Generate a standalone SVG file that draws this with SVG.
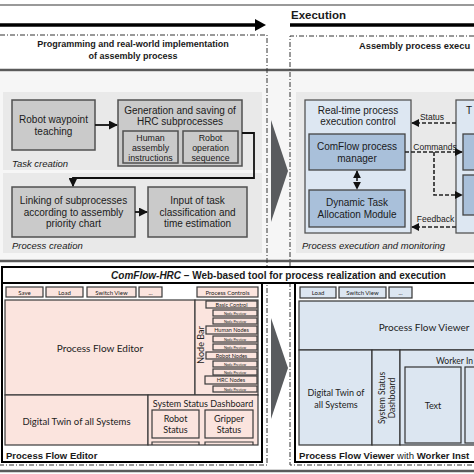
<svg xmlns="http://www.w3.org/2000/svg" width="474" height="474" viewBox="0 0 474 474">
<defs>
<marker id="ah" viewBox="0 0 10 10" refX="9" refY="5" markerWidth="5" markerHeight="5" orient="auto-start-reverse"><path d="M0,0 L10,5 L0,10 z" fill="#111"/></marker>
<style>
.t{font-family:"Liberation Sans",Arial,sans-serif;fill:#1a1a1a}
.b{font-weight:bold}
.i{font-style:italic}
.m{text-anchor:middle}
.c{font-family:Lato,"Open Sans",sans-serif;fill:#222}
.sep{stroke:#5a5a5a;stroke-width:2.5}
.dd{fill:none;stroke:#333;stroke-width:1;stroke-dasharray:5,2,1,2}
.panel{fill:#e9e9e9}
.gbox{fill:#cacaca;stroke:#505050;stroke-width:1.5}
.lb{fill:#dde7f2;stroke:#555;stroke-width:1.3}
.mb{fill:#a9c0da;stroke:#444;stroke-width:1.3}
.con{fill:none;stroke:#111;stroke-width:1.8}
.dash{fill:none;stroke:#222;stroke-width:1.6;stroke-dasharray:4,2}
.app{fill:#fff;stroke:#000;stroke-width:2}
.pk{fill:#fbe4de;stroke:#3a3a3a;stroke-width:1.2}
.bl{fill:#dce6f1;stroke:#333;stroke-width:1.2}
.chev{fill:#595b5e}
</style>
</defs>
<rect width="474" height="474" fill="#fff"/>
<line x1="0" y1="5" x2="474" y2="5" stroke="#777" stroke-width="1.5"/>
<g id="phase-arrow">
<line x1="0" y1="25" x2="257" y2="25" stroke="#000" stroke-width="3.5"/>
<polygon points="255,19 266,25 255,31" fill="#000"/>
<text class="t b" x="291" y="19" font-size="11.5">Execution</text>
<line x1="290" y1="25" x2="474" y2="25" stroke="#000" stroke-width="3.5"/>
</g>
<rect x="0" y="72" width="474" height="188" fill="#f6f6f6"/>
<line class="sep" x1="0" y1="70" x2="474" y2="70"/>
<line class="sep" x1="0" y1="261" x2="474" y2="261"/>
<line class="sep" x1="0" y1="471" x2="474" y2="471"/>
<path class="dd" d="M0,35 H267 V465 H0"/>
<path class="dd" d="M474,36 H290 V465 H474"/>
<text class="t b m" x="133" y="46.5" font-size="9">Programming and real-world implementation</text>
<text class="t b m" x="133" y="58.5" font-size="9">of assembly process</text>
<text class="t b" x="359" y="48.5" font-size="9.3">Assembly process execu</text>
<rect class="panel" x="3" y="92" width="259" height="78"/>
<rect class="panel" x="3" y="173" width="259" height="80"/>
<rect class="panel" x="296" y="92" width="180" height="161"/>
<polygon class="chev" points="271,120 288,171 271,222"/>
<polygon class="chev" points="271,318 288,368 271,419"/>
<g id="robot-waypoint">
<rect class="gbox" x="12" y="100" width="83" height="50"/>
<text class="t m" x="53.5" y="123" font-size="10">Robot waypoint</text>
<text class="t m" x="53.5" y="135" font-size="10">teaching</text>
</g>
<g id="generation">
<rect class="gbox" x="118" y="100" width="124" height="66"/>
<text class="t m" x="180" y="113.5" font-size="10">Generation and saving of</text>
<text class="t m" x="180" y="124.5" font-size="10">HRC subprocesses</text>
</g>
<g id="human-instructions">
<rect class="gbox" x="123" y="131" width="55" height="32" stroke-width="1.2"/>
<text class="t m" x="150.5" y="141" font-size="8.8">Human</text>
<text class="t m" x="150.5" y="151" font-size="8.8">assembly</text>
<text class="t m" x="150.5" y="161" font-size="8.8">instructions</text>
</g>
<g id="robot-sequence">
<rect class="gbox" x="183" y="131" width="55" height="32" stroke-width="1.2"/>
<text class="t m" x="210.5" y="141" font-size="8.8">Robot</text>
<text class="t m" x="210.5" y="151" font-size="8.8">operation</text>
<text class="t m" x="210.5" y="161" font-size="8.8">sequence</text>
</g>
<text class="t i" x="12" y="166.5" font-size="9.5">Task creation</text>
<g id="linking">
<rect class="gbox" x="12" y="187" width="123" height="50"/>
<text class="t m" x="73.5" y="203.5" font-size="10">Linking of subprocesses</text>
<text class="t m" x="73.5" y="215.5" font-size="10">according to assembly</text>
<text class="t m" x="73.5" y="226.5" font-size="10">priority chart</text>
</g>
<g id="input-task">
<rect class="gbox" x="148" y="187" width="99" height="50"/>
<text class="t m" x="197.5" y="203.5" font-size="10">Input of task</text>
<text class="t m" x="197.5" y="215.5" font-size="10">classification and</text>
<text class="t m" x="197.5" y="226.5" font-size="10">time estimation</text>
</g>
<text class="t i" x="12" y="248.5" font-size="9.5">Process creation</text>
<g id="realtime-control">
<rect class="lb" x="305" y="100" width="106" height="133"/>
<text class="t m" x="358" y="113.5" font-size="10">Real-time process</text>
<text class="t m" x="358" y="124.5" font-size="10">execution control</text>
</g>
<g id="comflow-manager">
<rect class="mb" x="309" y="134" width="96" height="36"/>
<text class="t m" x="357" y="150" font-size="10">ComFlow process</text>
<text class="t m" x="357" y="161.5" font-size="10">manager</text>
</g>
<g id="dynamic-task">
<rect class="mb" x="309" y="190" width="96" height="37"/>
<text class="t m" x="357" y="206" font-size="10">Dynamic Task</text>
<text class="t m" x="357" y="217.5" font-size="10">Allocation Module</text>
</g>
<g id="technical-systems">
<rect class="lb" x="456" y="100" width="30" height="133"/>
<text class="t" x="466" y="113.5" font-size="10">T</text>
<rect class="mb" x="463" y="134" width="30" height="36"/>
<rect class="mb" x="463" y="175" width="30" height="40"/>
</g>
<text class="t i" x="302" y="249" font-size="9.5">Process execution and monitoring</text>
<g id="connectors">
<line class="con" x1="95" y1="125" x2="117" y2="125" marker-end="url(#ah)"/>
<line class="con" x1="135" y1="212" x2="147" y2="212" marker-end="url(#ah)"/>
<path class="con" d="M242,133 H254 V178 H73 V186" marker-end="url(#ah)"/>
<line class="dash" x1="357" y1="171" x2="357" y2="189" marker-start="url(#ah)" marker-end="url(#ah)"/>
<line class="dash" x1="456" y1="123" x2="412" y2="123" marker-end="url(#ah)"/>
<line class="dash" x1="405" y1="152" x2="462" y2="152" marker-end="url(#ah)"/>
<path class="dash" d="M434,152 V195 H462" marker-end="url(#ah)"/>
<line class="dash" x1="456" y1="227" x2="412" y2="227" marker-end="url(#ah)"/>
<text class="t m" x="432" y="119.5" font-size="8.5">Status</text>
<text class="t m" x="435" y="149.5" font-size="8.5">Commands</text>
<text class="t m" x="435.5" y="222" font-size="8.5">Feedback</text>
</g>
<g id="comflow-title">
<rect x="2" y="267" width="476" height="16" fill="#fff" stroke="#000" stroke-width="2"/>
<text class="t b m" x="278.5" y="279" font-size="10"><tspan class="i">ComFlow-HRC</tspan> – Web-based tool for process realization and execution</text>
</g>
<g id="editor-app">
<rect class="app" x="2" y="283" width="260" height="179"/>
<rect class="pk" x="6" y="287" width="37" height="10"/><text class="c m" x="24.5" y="294.5" font-size="6">Save</text>
<rect class="pk" x="46" y="287" width="37" height="10"/><text class="c m" x="64.5" y="294.5" font-size="6">Load</text>
<rect class="pk" x="87" y="287" width="49" height="10"/><text class="c m" x="111.5" y="294.5" font-size="6">Switch View</text>
<rect class="pk" x="139" y="287" width="23" height="10"/><text class="c m" x="150.5" y="294.5" font-size="6">...</text>
<rect class="pk" x="197" y="287" width="61" height="10"/><text class="c m" x="227.5" y="294.5" font-size="6">Process Controls</text>
<rect class="pk" x="5" y="300" width="190" height="95"/>
<text class="c m" x="100" y="352" font-size="10">Process Flow Editor</text>
<rect class="pk" x="195" y="300" width="63" height="95"/>
<text class="c m" transform="translate(204,345) rotate(-90)" font-size="9">Node Bar</text>
<rect class="pk" x="206" y="301" width="51" height="7"/><text class="c m" x="231.5" y="306.8" font-size="5.5">Basic Control</text>
<rect class="pk" x="213" y="310" width="44" height="6"/><text class="c m" x="235" y="314.6" font-size="3.6">Node Preview</text>
<rect class="pk" x="213" y="318" width="44" height="6"/><text class="c m" x="235" y="322.6" font-size="3.6">Node Preview</text>
<rect class="pk" x="206" y="326" width="51" height="8"/><text class="c m" x="231.5" y="332.3" font-size="5.5">Human Nodes</text>
<rect class="pk" x="213" y="336" width="44" height="6"/><text class="c m" x="235" y="340.6" font-size="3.6">Node Preview</text>
<rect class="pk" x="213" y="344" width="44" height="6"/><text class="c m" x="235" y="348.6" font-size="3.6">Node Preview</text>
<rect class="pk" x="206" y="352" width="51" height="7"/><text class="c m" x="231.5" y="357.8" font-size="5.5">Robot Nodes</text>
<rect class="pk" x="213" y="361" width="44" height="6"/><text class="c m" x="235" y="365.6" font-size="3.6">Node Preview</text>
<rect class="pk" x="213" y="369" width="44" height="6"/><text class="c m" x="235" y="373.6" font-size="3.6">Node Preview</text>
<rect class="pk" x="205" y="376" width="52" height="8"/><text class="c m" x="231" y="382.3" font-size="5.5">HRC Nodes</text>
<rect class="pk" x="213" y="386" width="44" height="6"/><text class="c m" x="235" y="390.6" font-size="3.6">Node Preview</text>
<rect class="pk" x="5" y="395" width="143" height="50"/>
<text class="c m" x="76.5" y="425" font-size="9.5">Digital Twin of all Systems</text>
<rect class="pk" x="148" y="395" width="110" height="50"/>
<text class="c m" x="203" y="406.5" font-size="9">System Status Dashboard</text>
<rect class="pk" x="152" y="410" width="47" height="28"/>
<text class="c m" x="175.5" y="421.5" font-size="9">Robot</text>
<text class="c m" x="175.5" y="432.5" font-size="9">Status</text>
<rect class="pk" x="205" y="410" width="48" height="28"/>
<text class="c m" x="229" y="421.5" font-size="9">Gripper</text>
<text class="c m" x="229" y="432.5" font-size="9">Status</text>
<path d="M152,445 V442 H199 V445 M205,445 V442 H253 V445" fill="none" stroke="#3a3a3a" stroke-width="1.2"/>
<text class="t b" x="6" y="459" font-size="9.5">Process Flow Editor</text>
</g>
<g id="viewer-app">
<rect class="app" x="295" y="283" width="185" height="179"/>
<rect class="bl" x="300" y="287" width="36" height="11"/><text class="c m" x="318" y="295" font-size="6">Load</text>
<rect class="bl" x="339" y="287" width="47" height="11"/><text class="c m" x="362.5" y="295" font-size="6">Switch View</text>
<rect class="bl" x="389" y="287" width="23" height="11"/><text class="c m" x="400.5" y="295" font-size="6">...</text>
<rect class="bl" x="299" y="301" width="180" height="49"/>
<text class="c m" x="424" y="330.5" font-size="10">Process Flow Viewer</text>
<rect class="bl" x="299" y="350" width="73" height="95"/>
<text class="c m" x="336" y="396" font-size="9">Digital Twin of</text>
<text class="c m" x="336" y="408" font-size="9">all Systems</text>
<rect class="bl" x="372" y="350" width="28" height="95"/>
<text class="c m" transform="translate(384.5,398) rotate(-90)" font-size="8.5">System Status</text>
<text class="c m" transform="translate(395,398) rotate(-90)" font-size="8.5">Dashboard</text>
<rect class="bl" x="400" y="350" width="80" height="95"/>
<text class="c" x="436" y="364" font-size="8.5">Worker In</text>
<rect class="bl" x="405" y="367" width="56" height="76"/>
<text class="c m" x="433" y="409" font-size="9">Text</text>
<rect class="bl" x="465" y="367" width="20" height="76"/>
<text class="t" x="299" y="459" font-size="9.6"><tspan class="b">Process Flow Viewer</tspan> with <tspan class="b">Worker Inst</tspan></text>
</g>
</svg>
